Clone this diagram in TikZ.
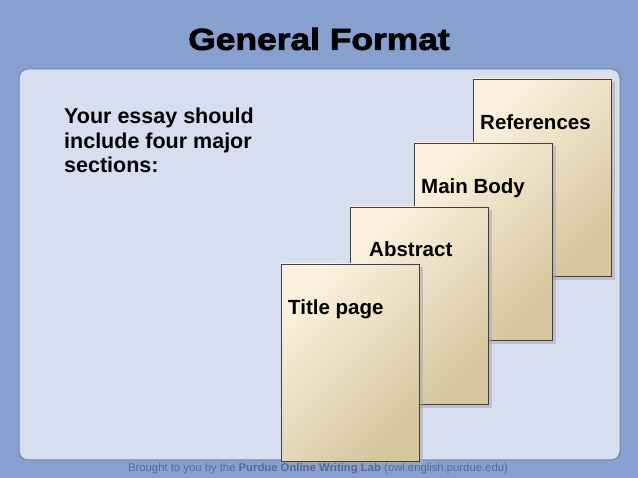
\documentclass[tikz,border=0pt]{standalone}
\usepackage{fontspec}
\setmainfont{Liberation Sans}
\newfontfamily\heavyfont[FakeBold=2.2]{Liberation Sans Bold}
\definecolor{bgblue}{HTML}{88A0CF}
\definecolor{panelfill}{HTML}{D7DEF0}
\definecolor{paneledge}{HTML}{6A87B0}
\definecolor{pagelight}{HTML}{FBF1DE}
\definecolor{pagedark}{HTML}{D6C6A0}
\definecolor{foot}{HTML}{56699A}
\begin{document}
\begin{tikzpicture}[x=1pt,y=-1pt,
  pagebox/.style={draw=black!75, line width=0.8pt, top color=pagelight, bottom color=pagedark, shading angle=45},
  pageshadow/.style={fill=black!35, opacity=0.55},
  pagelabel/.style={anchor=base west, font=\bfseries\fontsize{20.5}{24}\selectfont, inner sep=0pt}]
\useasboundingbox (0,0) rectangle (638,478);
\fill[bgblue] (0,0) rectangle (638,478);
\node[font=\heavyfont\fontsize{30.5}{34}\selectfont, inner sep=0pt] (title) at (319,39) {\scalebox{1.16}[1]{General Format}};
\draw[fill=panelfill, draw=paneledge, line width=1pt, rounded corners=9pt] (19,69) rectangle (620,460);
\node[anchor=north west, align=left, font=\bfseries\fontsize{21.5}{24.5}\selectfont, inner sep=0pt] (intro) at (64,108) {Your essay should\\include four major\\sections:};
% pages
\foreach \x/\y/\n in {473/79/ref, 414/143/main, 350/207/abs, 281/264/tit}{
  \fill[pageshadow] (\x+3,\y+3) rectangle (\x+142,\y+201);
  \draw[pagebox] (\x,\y) rectangle (\x+138,\y+197);
  \coordinate (\n) at (\x,\y);
}
\node[pagelabel] (lref) at (480,130) {References};
\node[pagelabel] (lmain) at (421,194) {Main Body};
\node[pagelabel] (labs) at (369,257) {Abstract};
\node[pagelabel] (ltit) at (288,315) {Title page};
\node[font=\fontsize{11.3}{13}\selectfont, text=foot, inner sep=0pt] (footer) at (318,469) {Brought to you by the \textbf{Purdue Online Writing Lab} (owl.english.purdue.edu)};
\end{tikzpicture}
\end{document}
